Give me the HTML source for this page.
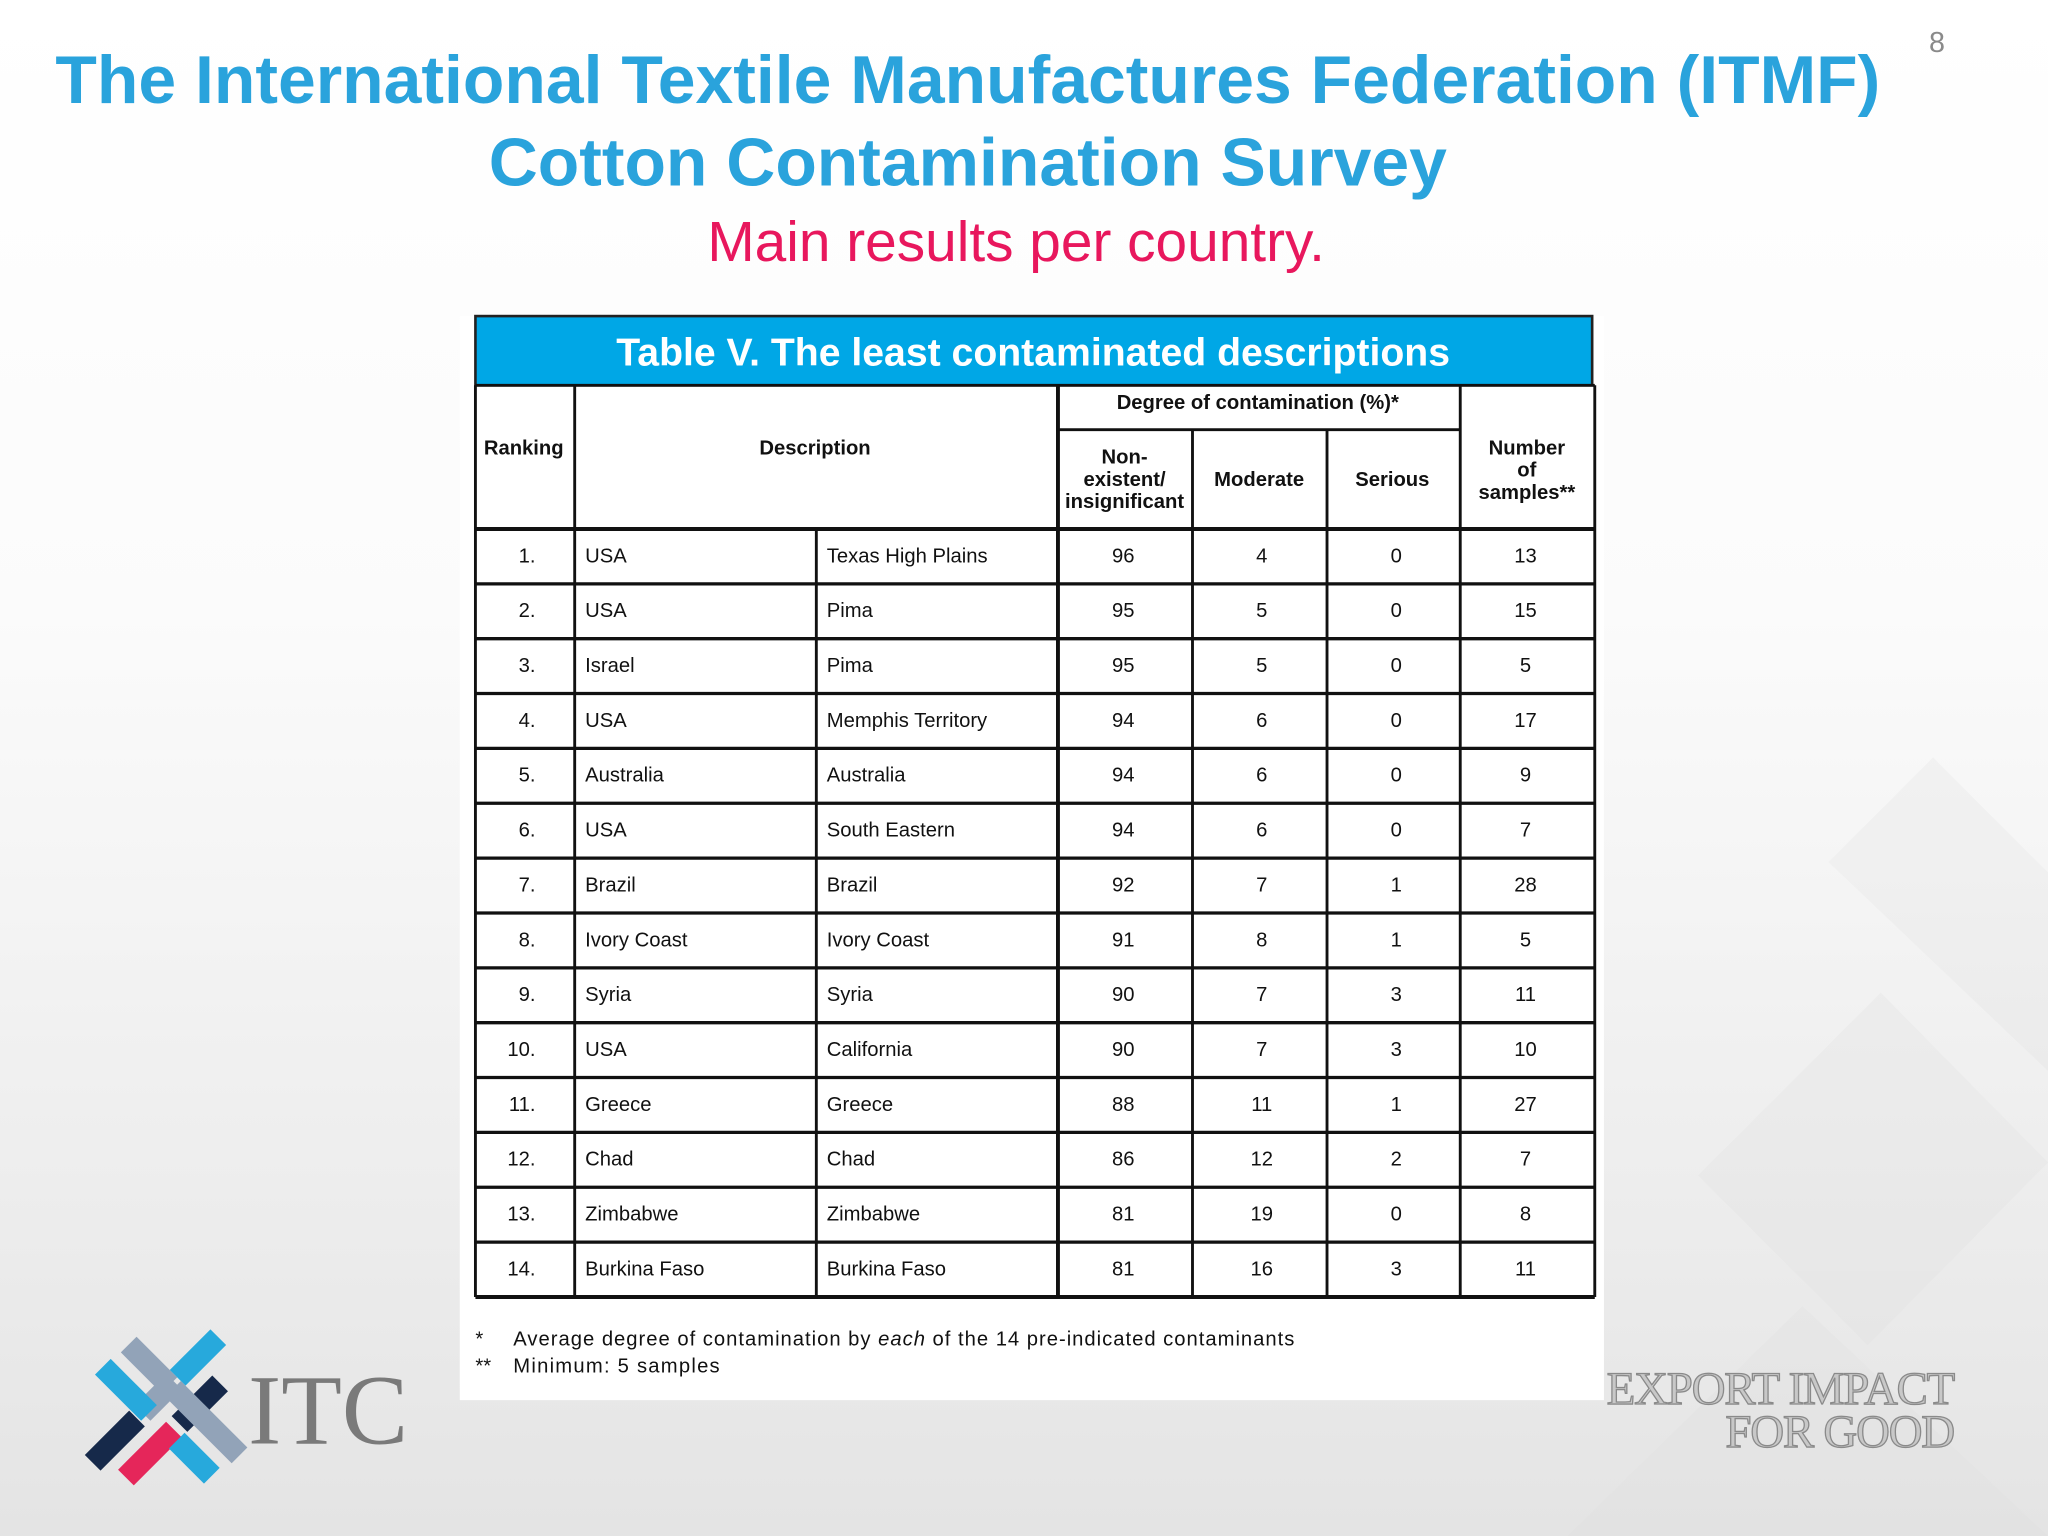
<!DOCTYPE html>
<html><head><meta charset="utf-8">
<style>
html,body{margin:0;padding:0;width:2048px;height:1536px;overflow:hidden;}
body{background:linear-gradient(180deg,#ffffff 0%,#fbfbfb 40%,#ececec 80%,#e4e4e4 100%);}
svg{display:block;}
</style></head>
<body>
<svg id="slide" width="2048" height="1536" viewBox="0 0 1568 1176" xmlns="http://www.w3.org/2000/svg">
  <g fill="#dcdcdc" opacity="0.2">
    <polygon points="1480,580 1568,668 1568,820 1400,660"/>
    <polygon points="1300,900 1440,760 1568,890 1430,1030"/>
    <polygon points="1380,1000 1568,1176 1200,1176"/>
  </g>
  <text x="1483" y="40" font-family="Liberation Sans, sans-serif" font-size="22" fill="#8a8a8a" text-anchor="middle">8</text>
  <text x="741" y="79" font-family="Liberation Sans, sans-serif" font-weight="bold" font-size="52" fill="#2aa3dc" text-anchor="middle">The International Textile Manufactures Federation (ITMF)</text>
  <text x="741" y="142" font-family="Liberation Sans, sans-serif" font-weight="bold" font-size="52" fill="#2aa3dc" text-anchor="middle">Cotton Contamination Survey</text>
  <text x="778" y="200" font-family="Liberation Sans, sans-serif" font-size="43.5" fill="#e8175d" text-anchor="middle">Main results per country.</text>

  <rect x="352" y="242" width="876" height="830" fill="#ffffff"/>
  <rect x="364" y="242" width="855" height="53" fill="#00a7e6" stroke="#222" stroke-width="2"/>
  <text x="791" y="280" font-family="Liberation Sans Narrow, Liberation Sans, sans-serif" font-weight="bold" font-size="30" fill="#ffffff" text-anchor="middle">Table V. The least contaminated descriptions</text>

  <g id="table" font-family="Liberation Sans, sans-serif" font-size="15.5" fill="#111"></g>

  <text x="364" y="1030" font-family="Liberation Sans, sans-serif" font-size="15.5" fill="#111">*<tspan x="393" textLength="598" lengthAdjust="spacing">Average degree of contamination by <tspan font-style="italic">each</tspan> of the 14 pre-indicated contaminants</tspan></text>
  <text x="364" y="1051" font-family="Liberation Sans, sans-serif" font-size="15.5" fill="#111">**<tspan x="393" textLength="158" lengthAdjust="spacing">Minimum: 5 samples</tspan></text>

  <g>
    <g transform="rotate(-45 130 1080)">
      <rect x="60" y="1058" width="48" height="17" fill="#16294a"/>
      <rect x="114" y="1058" width="34" height="17" fill="#92a3b8"/>
      <rect x="152" y="1058" width="44" height="17" fill="#27a9dc"/>
      <rect x="70" y="1084" width="52" height="17" fill="#e5265a"/>
      <rect x="128" y="1084" width="44" height="17" fill="#16294a"/>
    </g>
    <g transform="rotate(45 130 1080)">
      <rect x="72" y="1058" width="44" height="17" fill="#92a3b8"/>
      <rect x="120" y="1058" width="72" height="17" fill="#92a3b8"/>
      <rect x="70" y="1084" width="50" height="17" fill="#27a9dc"/>
      <rect x="150" y="1084" width="38" height="17" fill="#27a9dc"/>
    </g>
    <text x="190" y="1105" font-family="Liberation Serif, serif" font-size="76" fill="#7a7a7a">ITC</text>
  </g>
  <text x="1496" y="1075" font-family="Liberation Serif, serif" font-size="36" fill="#c8c8c8" stroke="#8a8a8a" stroke-width="1" text-anchor="end" letter-spacing="-1">EXPORT IMPACT</text>
  <text x="1496" y="1108" font-family="Liberation Serif, serif" font-size="36" fill="#c8c8c8" stroke="#8a8a8a" stroke-width="1" text-anchor="end" letter-spacing="-1">FOR GOOD</text>
</svg>
<script>
const ranks = ["1.","2.","3.","4.","5.","6.","7.","8.","9.","10.","11.","12.","13.","14."];
const countries = ["USA","USA","Israel","USA","Australia","USA","Brazil","Ivory Coast","Syria","USA","Greece","Chad","Zimbabwe","Burkina Faso"];
const regions = ["Texas High Plains","Pima","Pima","Memphis Territory","Australia","South Eastern","Brazil","Ivory Coast","Syria","California","Greece","Chad","Zimbabwe","Burkina Faso"];
const nonExistent = [96,95,95,94,94,94,92,91,90,90,88,86,81,81];
const moderate = [4,5,5,6,6,6,7,8,7,7,11,12,19,16];
const serious = [0,0,0,0,0,0,1,1,3,3,1,2,0,3];
const samples = [13,15,5,17,9,7,28,5,11,10,27,7,8,11];

(function(){
const NS = "http://www.w3.org/2000/svg";
const g = document.getElementById('table');
const colX = [364,440,625,810,913,1016,1118,1221];
const tableTop = 295, headBottom = 405, tableBottom = 993;
const rowH = (tableBottom - headBottom) / ranks.length;
function line(x1,y1,x2,y2,w){
  const l = document.createElementNS(NS,'line');
  l.setAttribute('x1',x1);l.setAttribute('y1',y1);l.setAttribute('x2',x2);l.setAttribute('y2',y2);
  l.setAttribute('stroke','#111');l.setAttribute('stroke-width',w||2.2);
  
  
  g.appendChild(l);
}
function txt(x,y,s,anchor,name,bold){
  const t = document.createElementNS(NS,'text');
  t.setAttribute('x',x);t.setAttribute('y',y);
  t.setAttribute('text-anchor',anchor||'middle');
  if(bold) t.setAttribute('font-weight','bold');
  t.textContent = s;
  
  
  g.appendChild(t);
}
line(colX[0],tableTop,colX[7],tableTop);
line(colX[0],headBottom,colX[7],headBottom,3);
line(colX[0],tableBottom,colX[7],tableBottom,3);
line(colX[3],329,colX[6],329);
[0,1,3,6,7].forEach(i=>line(colX[i],tableTop,colX[i],tableBottom,i===3?3:2.2));
[4,5].forEach(i=>line(colX[i],329,colX[i],tableBottom));
line(colX[2],headBottom,colX[2],tableBottom);
for(let i=1;i<ranks.length;i++){ const y=headBottom+i*rowH; line(colX[0],y,colX[7],y,2.5); }
txt(401,348,'Ranking','middle','header-ranking',true);
txt(624,348,'Description','middle','header-description',true);
txt(963,313,'Degree of contamination (%)*','middle','header-degree',true);
txt(861,355,'Non-','middle','header-non-existent',true);
txt(861,372,'existent/','middle','header-non-existent',true);
txt(861,389,'insignificant','middle','header-non-existent',true);
txt(964,372,'Moderate','middle','header-moderate',true);
txt(1066,372,'Serious','middle','header-serious',true);
txt(1169,348,'Number','middle','header-samples',true);
txt(1169,365,'of','middle','header-samples',true);
txt(1169,382,'samples**','middle','header-samples',true);
for(let i=0;i<ranks.length;i++){
  const y = headBottom + i*rowH + rowH/2 + 4.5;
  txt(410,y,ranks[i],'end','cell-rank');
  txt(448,y,countries[i],'start','cell-country');
  txt(633,y,regions[i],'start','cell-region');
  txt(860,y,String(nonExistent[i]),'middle','cell-non-existent');
  txt(966,y,String(moderate[i]),'middle','cell-moderate');
  txt(1069,y,String(serious[i]),'middle','cell-serious');
  txt(1168,y,String(samples[i]),'middle','cell-samples');
}
})();
</script>
</body></html>
